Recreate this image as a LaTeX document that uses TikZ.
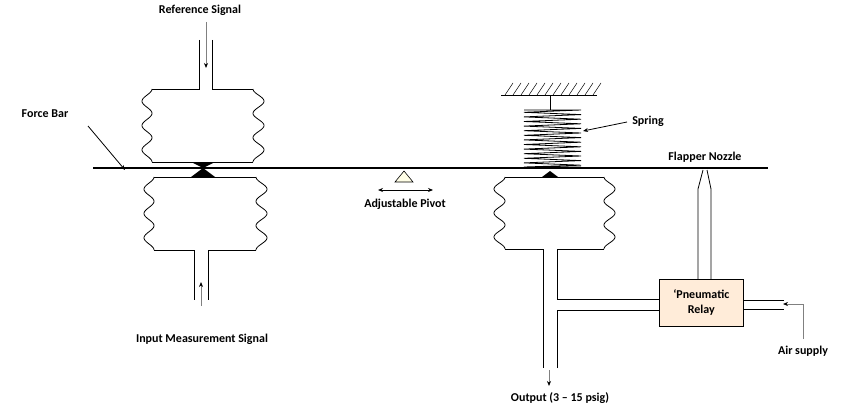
\documentclass[tikz,border=0pt]{standalone}
\usepackage{fontspec}
\setmainfont{Carlito}
\usetikzlibrary{arrows.meta}
\begin{document}
\begin{tikzpicture}[x=1pt,y=-1pt,
  lbl/.style={font=\bfseries\fontsize{12}{13}\selectfont,inner sep=1pt},
  ln/.style={line width=0.8pt},
  ar/.style={draw=gray,line width=0.8pt,-{Stealth[length=5pt,width=4pt,black]}},
  wave/.style={ln,smooth,samples=80}]
\useasboundingbox (0,0) rectangle (846,412);
% force bar
\draw[line width=1.6pt] (93,168) -- (768,168);
\node[lbl] (fb) at (45,114) {Force Bar};
\coordinate (fbt) at (125,170);
\draw[line width=0.8pt,-{Stealth[length=5pt,width=4pt]}] (88,126) -- (fbt);
% top left bellows
\draw[ln] (199,40) -- (199,89) -- (152,89);
\draw[ln] (212,40) -- (212,89) -- (253,89);
\draw[ln] (152,162) -- (253,162);
\draw[wave,domain=0:73] plot ({152-5*(1-cos(14.79*\x))},{89+\x});
\draw[wave,domain=0:73] plot ({253+5.5*(1-cos(14.79*\x))},{89+\x});
\node[lbl] (ref) at (200,10) {Reference Signal};
\coordinate (ra) at (206,22); \coordinate (rb) at (206,68);
\draw[ar] (ra) -- (rb);
% bowtie
\fill (191,162) -- (215,162) -- (203,168) -- cycle;
\fill (191,177) -- (215,177) -- (203,168) -- cycle;
% bottom left bellows
\draw[ln] (154,177) -- (256,177);
\draw[ln] (154,250) -- (194,250) -- (194,300);
\draw[ln] (256,250) -- (208,250) -- (208,300);
\draw[wave,domain=0:73] plot ({154-5*(1-cos(14.79*\x))},{177+\x});
\draw[wave,domain=0:73] plot ({256+5.5*(1-cos(14.79*\x))},{177+\x});
\node[lbl] (ims) at (202,339) {Input Measurement Signal};
\coordinate (ia) at (201,306); \coordinate (ib) at (201,282);
\draw[ar] (ia) -- (ib);
% pivot
\draw[line width=0.6pt,fill=yellow!10] (395,182) -- (404,171) -- (413,182) -- cycle;
\coordinate (pa) at (378,190); \coordinate (pb) at (433,190);
\draw[line width=0.8pt,{Stealth[length=5pt,width=4pt]}-{Stealth[length=5pt,width=4pt]}] (pa) -- (pb);
\node[lbl] (piv) at (405,204) {Adjustable Pivot};
% spring
\draw[ln] (501,95) -- (597,95);
\foreach \i in {0,...,11} \draw[line width=0.5pt] (505+8*\i,95) -- (513+8*\i,83);
\draw[ln] (550,95) -- (550,110);
\draw[line width=0.8pt] (524,110) -- (581,110)
  \foreach \i in {0,...,11} { -- (524,112.3+4.6*\i) -- (581,114.6+4.6*\i)} -- (524,167) -- (581,167);
\node[lbl] (spr) at (648,121) {Spring};
\coordinate (sa) at (627,122); \coordinate (sb) at (583,131);
\draw[ar,draw=black] (sa) -- (sb);
% right bellows
\fill (542,177) -- (550,171) -- (558,177) -- cycle;
\draw[ln] (505,177) -- (604,177);
\draw[wave,domain=0:72] plot ({505-5.5*(1-cos(15*\x))},{177+\x});
\draw[wave,domain=0:72] plot ({604+5.5*(1-cos(15*\x))},{177+\x});
\draw[ln] (505,249) -- (543,249) -- (543,368);
\draw[ln] (604,249) -- (557,249) -- (557,299) -- (659,299);
\draw[ln] (557,368) -- (557,310) -- (659,310);
\coordinate (oa) at (549,370); \coordinate (ob) at (549,386);
\draw[ar] (oa) -- (ob);
\node[lbl] (out) at (560,398) {Output (3 -- 15 psig)};
% relay
\node[draw,line width=0.6pt,fill=orange!15,minimum width=84pt,minimum height=47pt,align=center,lbl,anchor=north west] (relay) at (659,279) {`Pneumatic\\[2pt]Relay};
\draw[ln] (698,279) -- (698,189) -- (703,170);
\draw[ln] (711,279) -- (711,189) -- (707,170);
\node[lbl] (fn) at (705,157) {Flapper Nozzle};
\draw[ln] (743,300) -- (784,300);
\draw[ln] (743,309) -- (784,309);
\coordinate (aa) at (803,339); \coordinate (ab) at (783,304);
\draw[ar] (aa) -- (803,304) -- (ab);
\node[lbl] (air) at (803,351) {Air supply};
\end{tikzpicture}
\end{document}
